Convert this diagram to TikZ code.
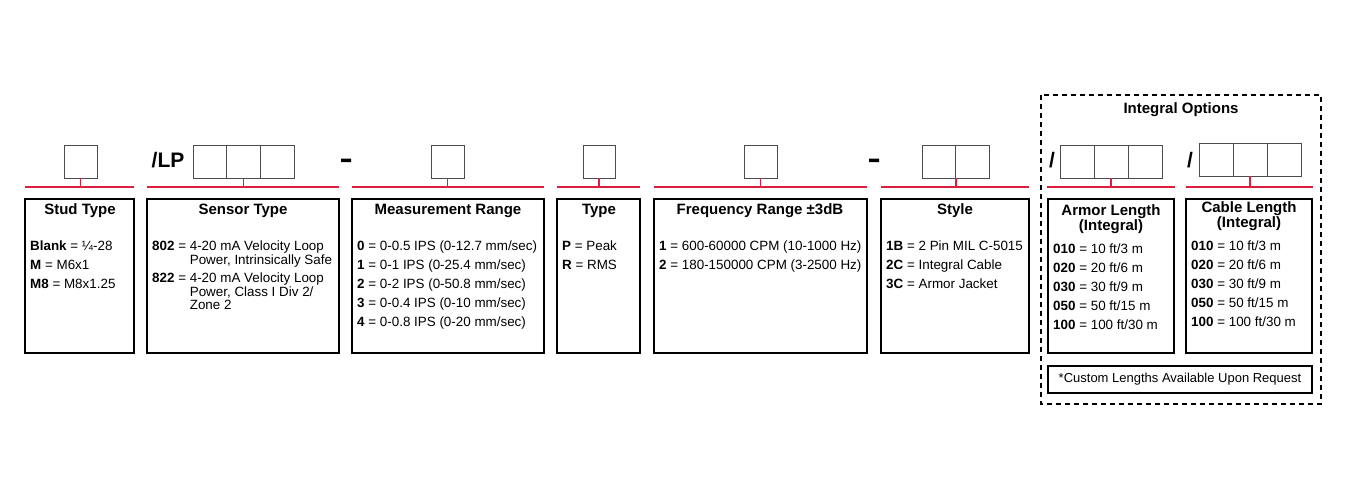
\documentclass[tikz,border=0pt]{standalone}
\usepackage{fontspec}
\setmainfont{Liberation Sans}
\usepackage{tikz}
\definecolor{codered}{RGB}{222,30,60}
\tikzset{
  cell/.style={draw=black!70,line width=0.9pt},
  field/.style={draw=black,line width=1.6pt},
  bar/.style={draw=codered,line width=1.6pt},
  title/.style={font=\bfseries\fontsize{15}{15}\selectfont,align=center},
  entry/.style={anchor=north west,font=\fontsize{13.4}{19}\selectfont,align=left,inner sep=0pt},
  sep/.style={font=\bfseries\fontsize{21}{21}\selectfont}
}
\begin{document}
\begin{tikzpicture}[x=1pt,y=-1pt]
\useasboundingbox (0,0) rectangle (1346,500);

% code cells
\draw[cell] (64,145) rectangle (97,178);
\foreach \i in {0,1,2} \draw[cell] (193+33.7*\i,145) rectangle ++(33.7,33);
\draw[cell] (431,145) rectangle (464,178);
\draw[cell] (583,145) rectangle (615,178);
\draw[cell] (744,145) rectangle (777,178);
\foreach \i in {0,1} \draw[cell] (922+33.7*\i,145) rectangle ++(33.7,33);
\foreach \i in {0,1,2} \draw[cell] (1060+34*\i,145) rectangle ++(34,33);
\foreach \i in {0,1,2} \draw[cell] (1199+34*\i,143) rectangle ++(34,33);

\node[sep] (lp) at (168,160) {/LP};
\node[sep] (sl1) at (1052,160) {/};
\node[sep] (sl2) at (1190,160) {/};
\fill (341,158.5) rectangle (351,162) (869,158.5) rectangle (879,162);

% red bars and stems
\draw[bar] (25,187) -- (134,187) (80.5,178) -- (80.5,187);
\draw[bar] (147,187) -- (339,187) (243.5,178) -- (243.5,187);
\draw[bar] (352,187) -- (544,187) (447.5,178) -- (447.5,187);
\draw[bar] (557,187) -- (640,187) (599,178) -- (599,187);
\draw[bar] (654,187) -- (867,187) (760.5,178) -- (760.5,187);
\draw[bar] (881,187) -- (1029,187) (955.7,178) -- (955.7,187);
\draw[bar] (1047,187) -- (1175,187) (1111,178) -- (1111,187);
\draw[bar] (1186,187) -- (1313,187) (1250,176) -- (1250,187);

% field boxes
\draw[field] (25,199) rectangle (134,353);
\draw[field] (147,199) rectangle (339,353);
\draw[field] (352,199) rectangle (544,353);
\draw[field] (557,199) rectangle (640,353);
\draw[field] (654,199) rectangle (867,353);
\draw[field] (881,199) rectangle (1029,353);
\draw[field] (1048,199) rectangle (1174,353);
\draw[field] (1186,199) rectangle (1312,353);
\draw[field] (1048,366) rectangle (1312,393);
\draw[line width=1.3pt,dash pattern=on 5pt off 4pt] (1041,95) rectangle (1321,404);

\node[title] (stud) at (80,211) {Stud Type};
\node[title] (sensor) at (243,211) {Sensor Type};
\node[title] (range) at (448,211) {Measurement Range};
\node[title] (type) at (599,211) {Type};
\node[title] (freq) at (760,211) {Frequency Range ±3dB};
\node[title] (style) at (955,211) {Style};
\node[title] (armor) at (1111,219) {Armor Length\\(Integral)};
\node[title,font=\bfseries\fontsize{15}{11}\selectfont] (cable) at (1249,216) {Cable Length\\(Integral)};
\node[title] (integral) at (1181,110) {Integral Options};

\node[entry] (studlist) at (30,241) {\textbf{Blank} = ¼-28\\\textbf{M} = M6x1\\\textbf{M8} = M8x1.25};
\node[entry,font=\fontsize{13.4}{13.5}\selectfont] (sensorlist) at (152,241)
  {\textbf{802} = 4-20 mA Velocity Loop\\\phantom{\textbf{802} = }Power, Intrinsically Safe\\[5pt]
   \textbf{822} = 4-20 mA Velocity Loop\\\phantom{\textbf{822} = }Power, Class I Div 2/\\\phantom{\textbf{822} = }Zone 2};
\node[entry] (rangelist) at (357,241) {\textbf{0} = 0-0.5 IPS (0-12.7 mm/sec)\\\textbf{1} = 0-1 IPS (0-25.4 mm/sec)\\\textbf{2} = 0-2 IPS (0-50.8 mm/sec)\\\textbf{3} = 0-0.4 IPS (0-10 mm/sec)\\\textbf{4} = 0-0.8 IPS (0-20 mm/sec)};
\node[entry] (typelist) at (562,241) {\textbf{P} = Peak\\\textbf{R} = RMS};
\node[entry] (freqlist) at (659,241) {\textbf{1} = 600-60000 CPM (10-1000 Hz)\\\textbf{2} = 180-150000 CPM (3-2500 Hz)};
\node[entry] (stylelist) at (886,241) {\textbf{1B} = 2 Pin MIL C-5015\\\textbf{2C} = Integral Cable\\\textbf{3C} = Armor Jacket};
\node[entry] (armorlist) at (1053,244) {\textbf{010} = 10 ft/3 m\\\textbf{020} = 20 ft/6 m\\\textbf{030} = 30 ft/9 m\\\textbf{050} = 50 ft/15 m\\\textbf{100} = 100 ft/30 m};
\node[entry] (cablelist) at (1191,241) {\textbf{010} = 10 ft/3 m\\\textbf{020} = 20 ft/6 m\\\textbf{030} = 30 ft/9 m\\\textbf{050} = 50 ft/15 m\\\textbf{100} = 100 ft/30 m};
\node[font=\fontsize{13}{13}\selectfont] (custom) at (1180,379) {*Custom Lengths Available Upon Request};
\end{tikzpicture}
\end{document}
